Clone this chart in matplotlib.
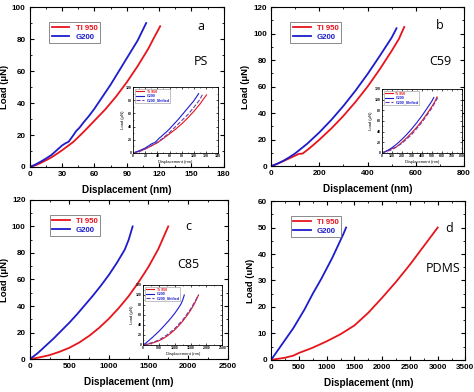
import matplotlib.pyplot as plt
from matplotlib.ticker import MultipleLocator, AutoMinorLocator

plt.rcParams['font.family'] = ['Liberation Sans', 'DejaVu Sans']
plt.rcParams['font.weight'] = 'bold'

RED = '#e8141c'
BLUE = '#1c1ccc'

# panel a: PS
ps_ti_x = [0, 5, 10, 15, 20, 25, 30, 35, 40, 45, 50, 55, 60, 65, 70, 75, 80, 85, 90,
           95, 100, 105, 110, 115, 121]
ps_ti_y = [0, 1, 2.5, 4.2, 6, 8.2, 10.5, 13, 15.5, 18.7, 22, 25.5, 29, 32.5, 36,
           40, 44, 48.5, 53, 58, 63, 68.5, 74, 80.5, 88]
ps_g_x = [0, 5, 10, 15, 20, 25, 30, 33, 36, 40, 43, 46, 50, 55, 60, 65, 70, 75, 80,
          85, 90, 95, 100, 104, 108]
ps_g_y = [0, 1.5, 3.3, 5.3, 7.5, 10.5, 13.5, 14.8, 15.8, 19.5, 22.5, 24.5, 28, 32,
          36.5, 41.5, 46.5, 51.5, 57, 62.5, 68, 73.5, 79, 84.5, 90]
ps_gs_x = [0, 10, 20, 30, 40, 50, 60, 70, 80, 90, 100, 110, 115]
ps_gs_y = [0, 2, 6, 11, 16, 23, 31, 40, 49, 58, 69, 81, 90]

# panel b: C59
c59_ti_x = [0, 25, 50, 75, 100, 115, 130, 150, 175, 200, 250, 300, 350, 400, 450,
            500, 530, 552]
c59_ti_y = [0, 1.8, 3.8, 5.9, 8, 9.3, 9.5, 12.2, 16, 20, 28.5, 38, 48.5, 60, 73, 87,
            96, 105]
c59_g_x = [0, 25, 50, 75, 100, 150, 200, 250, 300, 350, 400, 450, 500, 520]
c59_g_y = [0, 1.8, 4, 6.7, 9.7, 17, 25.5, 35, 45.5, 57, 69.5, 83, 97, 104]
c59_gs_x = [0, 100, 200, 300, 400, 500, 560]
c59_gs_y = [0, 6, 18, 35, 57, 84, 104]

# panel c: C85
c85_ti_x = [0, 125, 250, 375, 500, 625, 750, 875, 1000, 1125, 1250, 1375, 1500,
            1625, 1750]
c85_ti_y = [0, 1.3, 3, 5.5, 8.5, 12.5, 17.5, 23.5, 30.5, 38.5, 47.5, 58, 69.5, 83,
            100]
c85_g_x = [0, 100, 200, 300, 400, 500, 600, 700, 800, 900, 1000, 1100, 1200, 1250,
           1300]
c85_g_y = [0, 4.5, 10, 15.5, 21.5, 27.5, 34, 41, 48, 55.5, 63.5, 72.5, 82.5, 90,
           100]
c85_gs_x = [0, 250, 500, 750, 1000, 1250, 1500, 1750]
c85_gs_y = [0, 4, 10, 20, 33, 50, 72, 100]

# panel d: PDMS
pdms_ti_x = [0, 250, 400, 500, 750, 1000, 1250, 1500, 1750, 2000, 2250, 2500, 2750,
             3000]
pdms_ti_y = [0, 0.8, 1.6, 2.6, 4.6, 7, 9.7, 13, 17.8, 23.5, 29.5, 36, 43, 50]
pdms_g_x = [0, 100, 250, 400, 500, 600, 750, 900, 1000, 1100, 1200, 1300, 1350]
pdms_g_y = [0, 3, 7.5, 12, 15.5, 19, 25, 30.5, 34.5, 38.5, 43, 47.5, 50]

fig = plt.figure(figsize=(4.74, 3.92), dpi=100)


def style(ax, xmax, xstep, ymax, ystep, fs=5.8):
    ax.set_xlim(0, xmax)
    ax.set_ylim(0, ymax)
    ax.xaxis.set_major_locator(MultipleLocator(xstep))
    ax.yaxis.set_major_locator(MultipleLocator(ystep))
    ax.xaxis.set_minor_locator(AutoMinorLocator(2))
    ax.yaxis.set_minor_locator(AutoMinorLocator(2))
    ax.tick_params(which='both', direction='in', top=True, right=True, labelsize=fs)
    ax.tick_params(which='major', length=3, width=0.8, pad=3)
    ax.tick_params(which='minor', length=1.5, width=0.6)
    for s in ax.spines.values():
        s.set_linewidth(0.8)


def main_panel(rect, tix, tiy, gx, gy, xmax, xstep, ymax, ystep, letter, lpos, name, npos, ylabel='Load (\u03bcN)'):
    ax = fig.add_axes(rect)
    ax.plot(tix, tiy, color=RED, lw=1.3, label='TI 950')
    ax.plot(gx, gy, color=BLUE, lw=1.3, label='G200')
    style(ax, xmax, xstep, ymax, ystep)
    ax.set_xlabel('Displacement (nm)', fontsize=7.2, fontweight='bold', labelpad=5)
    ax.set_ylabel(ylabel, fontsize=6.8, fontweight='bold', labelpad=2)
    leg = ax.legend(loc='upper left', bbox_to_anchor=(0.08, 0.93), fontsize=5.6,
                    frameon=True, fancybox=False, edgecolor='#555555',
                    handlelength=2.3, borderpad=0.3, labelspacing=0.2)
    leg.get_frame().set_linewidth(0.6)
    for t, c in zip(leg.get_texts(), [RED, BLUE]):
        t.set_color(c)
    ax.text(lpos[0], lpos[1], letter, fontsize=9, fontweight='normal',
            family=['Open Sans', 'DejaVu Sans'], ha='center', va='center')
    ax.text(npos[0], npos[1], name, fontsize=9, fontweight='normal',
            family=['Open Sans', 'DejaVu Sans'], ha='center', va='center')
    return ax


def inset(rect, tix, tiy, gx, gy, gsx, gsy, xmax, xstep, ymax, ystep):
    ax = fig.add_axes(rect)
    ax.plot(tix, tiy, color=RED, lw=0.8, label='Ti 950')
    ax.plot(gx, gy, color=BLUE, lw=0.8, label='G200')
    ax.plot(gsx, gsy, color='#6a3aa8', lw=0.8, ls='--', label='G200_Shifted')
    style(ax, xmax, xstep, ymax, ystep, fs=2.5)
    ax.tick_params(which='major', length=1.5, width=0.5, pad=1)
    ax.tick_params(which='minor', length=0.8, width=0.4)
    for s in ax.spines.values():
        s.set_linewidth(0.6)
    ax.set_xlabel('Displacement (nm)', fontsize=3, labelpad=1)
    ax.set_ylabel('Load (\u03bcN)', fontsize=3, labelpad=1)
    leg = ax.legend(loc='upper left', fontsize=2.6, frameon=True, fancybox=False,
                    edgecolor='#777777', handlelength=2.2, borderpad=0.2, labelspacing=0.1)
    leg.get_frame().set_linewidth(0.4)
    for t, c in zip(leg.get_texts(), [RED, BLUE, BLUE]):
        t.set_color(c)
    return ax


main_panel([0.063, 0.574, 0.409, 0.408], ps_ti_x, ps_ti_y, ps_g_x, ps_g_y,
           180, 30, 100, 20, 'a', (159, 88), 'PS', (159, 66))
main_panel([0.572, 0.576, 0.407, 0.406], c59_ti_x, c59_ti_y, c59_g_x, c59_g_y,
           800, 200, 120, 20, 'b', (700, 106), 'C59', (700, 79))
main_panel([0.063, 0.084, 0.417, 0.406], c85_ti_x, c85_ti_y, c85_g_x, c85_g_y,
           2500, 500, 120, 20, 'c', (2000, 100), 'C85', (2000, 71))
main_panel([0.572, 0.082, 0.41, 0.405], pdms_ti_x, pdms_ti_y, pdms_g_x, pdms_g_y,
           3500, 500, 60, 10, 'd', (3200, 49.5), 'PDMS', (3100, 34.5), ylabel='Load (uN)')

inset([0.281, 0.610, 0.179, 0.168], ps_ti_x, ps_ti_y, ps_g_x, ps_g_y, ps_gs_x, ps_gs_y,
      140, 20, 100, 20)
inset([0.806, 0.610, 0.168, 0.163], c59_ti_x, c59_ti_y, c59_g_x, c59_g_y, c59_gs_x, c59_gs_y,
      800, 100, 120, 20)
inset([0.302, 0.120, 0.167, 0.153], c85_ti_x, c85_ti_y, c85_g_x, c85_g_y, c85_gs_x, c85_gs_y,
      2500, 500, 120, 20)

fig.savefig('out.png', dpi=100)
